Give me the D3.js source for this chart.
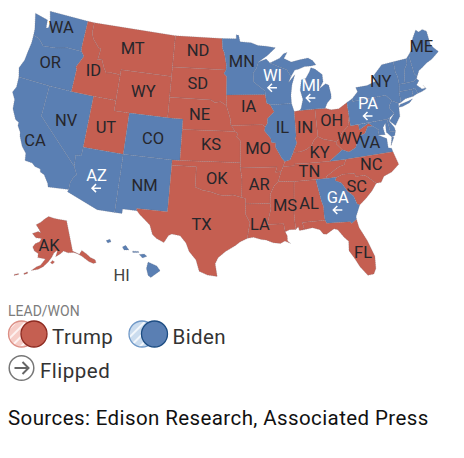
<!DOCTYPE html>
<html>
<head>
<meta charset="utf-8">
<style>
  html, body { margin: 0; padding: 0; background: #fff; }
  svg { display: block; }
  text { font-family: Roboto, "Open Sans", sans-serif; }
</style>
<script src="https://cdn.jsdelivr.net/npm/d3@7"></script>
</head>
<body>
<svg id="chart" width="464" height="458"></svg>
<script>
// Result of each state
const trumpStates = ['ID', 'MT', 'WY', 'UT', 'ND', 'SD', 'NE', 'KS', 'OK', 'TX', 'IA', 'MO', 'AR', 'LA', 'MS', 'AL', 'TN', 'KY', 'IN', 'OH', 'WV', 'NC', 'SC', 'FL', 'AK'];
const bidenStates = ['WA', 'OR', 'CA', 'NV', 'CO', 'AZ', 'NM', 'MN', 'WI', 'IL', 'MI', 'GA', 'VA', 'PA', 'NY', 'MD', 'DE', 'NJ', 'CT', 'RI', 'MA', 'VT', 'NH', 'ME', 'HI'];
const flippedStates = ['AZ', 'WI', 'MI', 'PA', 'GA'];

// Simplified state outlines, [lon, lat]
const stateRings = {
  WA: [[[-124.7,48.38],[-123.1,48.15],[-122.75,48.1],[-122.6,47.3],[-122.3,47.4],[-122.3,48.0],[-122.75,49],[-117.03,49],[-117.04,46.42],[-116.92,46],[-118.98,46],[-119.3,45.93],[-120.5,45.7],[-121.2,45.65],[-122.3,45.55],[-122.8,45.9],[-123.2,46.15],[-124,46.27],[-124.1,46.9]]],
  OR: [[[-124,46.27],[-123.2,46.15],[-122.8,45.9],[-122.3,45.55],[-121.2,45.65],[-120.5,45.7],[-119.3,45.93],[-118.98,46],[-116.92,46],[-116.46,45.6],[-116.85,44.95],[-117.2,44.4],[-117.03,44.2],[-117.03,42],[-120,42],[-124.2,42],[-124.55,42.84],[-124.15,43.7],[-124.05,44.7],[-123.95,45.5]]],
  CA: [[[-124.2,42],[-120,42],[-120,39],[-114.63,35],[-114.15,34.27],[-114.45,34],[-114.72,33.4],[-114.72,32.72],[-117.12,32.53],[-117.25,32.85],[-117.9,33.6],[-118.4,33.75],[-118.5,34.03],[-119.2,34.15],[-119.6,34.4],[-120.5,34.45],[-120.65,35.15],[-121.3,35.7],[-121.9,36.6],[-122,36.95],[-122.5,37.5],[-122.5,37.8],[-123,38],[-123.7,38.9],[-123.85,39.8],[-124.4,40.44],[-124.1,41]]],
  NV: [[[-120,42],[-117.03,42],[-114.04,42],[-114.04,37],[-114.05,36.2],[-114.75,36.1],[-114.63,35],[-120,39]]],
  ID: [[[-117.03,49],[-116.05,49],[-116.05,48],[-115.7,47.45],[-114.7,46.7],[-114.35,46.65],[-114.5,45.55],[-113.95,45.7],[-113.45,44.95],[-113,44.45],[-112.3,44.55],[-111.5,44.55],[-111.05,44.48],[-111.05,42],[-114.04,42],[-117.03,42],[-117.03,44.2],[-117.2,44.4],[-116.85,44.95],[-116.46,45.6],[-116.92,46],[-117.04,46.42]]],
  MT: [[[-116.05,49],[-104.05,49],[-104.05,45.94],[-104.05,45],[-111.05,45],[-111.05,44.48],[-111.5,44.55],[-112.3,44.55],[-113,44.45],[-113.45,44.95],[-113.95,45.7],[-114.5,45.55],[-114.35,46.65],[-114.7,46.7],[-115.7,47.45],[-116.05,48]]],
  WY: [[[-111.05,45],[-104.05,45],[-104.05,43],[-104.05,41],[-109.05,41],[-111.05,41],[-111.05,42],[-111.05,44.48]]],
  UT: [[[-114.04,42],[-111.05,42],[-111.05,41],[-109.05,41],[-109.05,37],[-114.04,37]]],
  CO: [[[-109.05,41],[-104.05,41],[-102.05,41],[-102.05,40],[-102.05,37],[-103,37],[-109.05,37]]],
  NM: [[[-109.05,37],[-103,37],[-103.04,32],[-106.62,32],[-106.53,31.78],[-108.2,31.78],[-108.2,31.33],[-109.05,31.33]]],
  AZ: [[[-114.04,37],[-109.05,37],[-109.05,31.33],[-111.07,31.33],[-114.81,32.5],[-114.72,32.72],[-114.72,33.4],[-114.45,34],[-114.15,34.27],[-114.63,35],[-114.75,36.1],[-114.05,36.2]]],
  ND: [[[-104.05,49],[-97.23,49],[-97.1,48],[-96.85,47.6],[-96.55,46.5],[-96.56,45.94],[-104.05,45.94]]],
  SD: [[[-104.05,45.94],[-96.56,45.94],[-96.85,45.6],[-96.45,45.3],[-96.45,43.5],[-96.45,42.49],[-97.2,42.85],[-98,42.77],[-98.5,43],[-104.05,43],[-104.05,45]]],
  NE: [[[-104.05,43],[-98.5,43],[-98,42.77],[-97.2,42.85],[-96.45,42.49],[-96.1,41.7],[-95.9,41.2],[-95.85,40.7],[-95.31,40],[-102.05,40],[-102.05,41],[-104.05,41]]],
  KS: [[[-102.05,40],[-95.31,40],[-94.9,39.8],[-95.1,39.5],[-94.61,39.1],[-94.62,37],[-102.05,37]]],
  OK: [[[-103,37],[-102.05,37],[-94.62,37],[-94.62,36.5],[-94.43,35.4],[-94.48,33.64],[-95.5,33.9],[-96.5,33.8],[-97.2,33.9],[-98.1,34.13],[-99.2,34.3],[-100,34.56],[-100,36.5],[-103,36.5]]],
  TX: [[[-103,36.5],[-100,36.5],[-100,34.56],[-99.2,34.3],[-98.1,34.13],[-97.2,33.9],[-96.5,33.8],[-95.5,33.9],[-94.48,33.64],[-94.04,33.55],[-94.04,33.02],[-94.04,32],[-93.55,31.2],[-93.75,30.4],[-93.85,29.7],[-94.7,29.35],[-95.2,29],[-96.3,28.4],[-97.1,27.8],[-97.4,27.2],[-97.15,25.96],[-98.2,26.07],[-99.1,26.4],[-99.5,27.5],[-100.3,28.3],[-100.7,29.1],[-101.4,29.77],[-102.35,29.87],[-102.7,29.7],[-103.15,28.98],[-104,29.3],[-104.5,29.65],[-104.9,30.55],[-106.2,31.47],[-106.53,31.78],[-106.62,32],[-103.04,32]]],
  MN: [[[-97.23,49],[-95.15,49],[-95.15,49.38],[-94.8,49.33],[-94.6,48.7],[-93,48.6],[-92,48.3],[-90.8,48.2],[-89.5,48],[-90.7,47.3],[-92.02,46.7],[-92.3,46.1],[-92.8,45.6],[-92.75,44.75],[-91.25,43.85],[-91.22,43.5],[-96.45,43.5],[-96.45,45.3],[-96.85,45.6],[-96.56,45.94],[-96.55,46.5],[-96.85,47.6],[-97.1,48]]],
  IA: [[[-96.45,43.5],[-91.22,43.5],[-91.1,42.7],[-90.64,42.5],[-90.15,41.8],[-91.05,41.2],[-91.1,40.7],[-91.42,40.38],[-91.73,40.61],[-95.77,40.58],[-95.85,40.7],[-95.9,41.2],[-96.1,41.7],[-96.45,42.49]]],
  MO: [[[-95.77,40.58],[-91.73,40.61],[-91.42,40.38],[-91.5,40],[-90.75,39.25],[-90.7,38.9],[-90.15,38.8],[-90.2,38.4],[-89.5,37.3],[-89.15,36.98],[-89.4,36.5],[-89.7,36],[-90.37,36],[-90.15,36.5],[-94.62,36.5],[-94.62,37],[-94.61,39.1],[-95.1,39.5],[-94.9,39.8],[-95.31,40]]],
  AR: [[[-94.62,36.5],[-90.15,36.5],[-90.37,36],[-89.7,36],[-90.1,35.1],[-90.6,34.7],[-91.1,33.9],[-91.17,33],[-94.04,33.02],[-94.04,33.55],[-94.48,33.64],[-94.43,35.4]]],
  LA: [[[-94.04,33.02],[-91.17,33],[-91.1,32.5],[-91.6,31],[-89.73,31],[-89.6,30.2],[-89.4,29.8],[-89.4,29.3],[-89.1,29.05],[-89.7,29.3],[-90.2,29.1],[-91,29.2],[-91.8,29.5],[-92.3,29.55],[-93.2,29.78],[-93.85,29.7],[-93.75,30.4],[-93.55,31.2],[-94.04,32]]],
  MS: [[[-90.1,35.1],[-88.2,35],[-88.47,31.9],[-88.4,30.37],[-89.1,30.38],[-89.6,30.2],[-89.73,31],[-91.6,31],[-91.1,32.5],[-91.17,33],[-91.1,33.9],[-90.6,34.7]]],
  AL: [[[-88.2,35],[-85.6,35],[-85.18,32.87],[-85,32.3],[-85.05,31.55],[-85,31],[-87.6,31],[-87.45,30.4],[-87.5,30.28],[-88,30.23],[-88.1,30.6],[-88.4,30.37],[-88.47,31.9]]],
  TN: [[[-89.7,36],[-89.4,36.5],[-88.05,36.5],[-88.07,36.68],[-86.5,36.65],[-83.68,36.6],[-81.68,36.59],[-82,36.1],[-82.6,36],[-83.1,35.77],[-84.3,35.2],[-84.32,34.99],[-85.6,35],[-88.2,35],[-90.1,35.1]]],
  KY: [[[-89.4,36.5],[-89.15,36.98],[-88.5,37.1],[-88.05,37.8],[-87.1,37.8],[-86.3,38],[-85.7,38.3],[-85.4,38.73],[-84.8,39.1],[-84.2,38.8],[-83.6,38.65],[-82.6,38.42],[-82.6,38.17],[-81.97,37.54],[-83.68,36.6],[-86.5,36.65],[-88.07,36.68],[-88.05,36.5]]],
  IL: [[[-90.64,42.5],[-87.8,42.5],[-87.53,41.7],[-87.53,39.35],[-87.65,39.1],[-87.5,38.7],[-88.05,37.8],[-88.5,37.1],[-89.15,36.98],[-89.5,37.3],[-90.2,38.4],[-90.15,38.8],[-90.7,38.9],[-90.75,39.25],[-91.5,40],[-91.42,40.38],[-91.1,40.7],[-91.05,41.2],[-90.15,41.8]]],
  IN: [[[-87.53,41.7],[-86.82,41.76],[-84.8,41.76],[-84.8,39.1],[-85.4,38.73],[-85.7,38.3],[-86.3,38],[-87.1,37.8],[-88.05,37.8],[-87.5,38.7],[-87.65,39.1],[-87.53,39.35]]],
  OH: [[[-84.8,41.76],[-83.45,41.73],[-82.7,41.5],[-81.7,41.5],[-80.52,41.98],[-80.52,40.64],[-80.85,39.7],[-81.7,39.2],[-82.2,38.6],[-82.6,38.42],[-83.6,38.65],[-84.2,38.8],[-84.8,39.1]]],
  MI: [
    [[-86.82,41.76],[-84.8,41.76],[-83.45,41.73],[-83.1,42.2],[-82.5,42.6],[-82.45,43],[-82.6,43.9],[-83,44.07],[-83.9,43.65],[-83.3,44.3],[-83.3,45],[-84.2,45.6],[-84.75,45.78],[-85,45.4],[-85.6,44.8],[-86.2,44.7],[-86.5,43.7],[-86.25,42.8],[-86.6,41.95]],
    [[-90.4,46.55],[-89,46.95],[-88.4,47.38],[-87.9,47.47],[-88.4,46.9],[-87.4,46.5],[-86.2,46.65],[-85,46.75],[-84.4,46.45],[-84,46],[-84.7,45.95],[-85.6,45.95],[-86.5,45.75],[-87,45.7],[-87.6,45.1],[-88.1,45.8],[-89.1,46.1]]
  ],
  WI: [[[-92.02,46.7],[-90.9,46.95],[-90.4,46.55],[-89.1,46.1],[-88.1,45.8],[-87.6,45.1],[-88,44.55],[-87.05,45.25],[-87.55,44.3],[-87.8,43.3],[-87.8,42.5],[-90.64,42.5],[-91.1,42.7],[-91.22,43.5],[-91.25,43.85],[-92.75,44.75],[-92.8,45.6],[-92.3,46.1]]],
  WV: [[[-82.6,38.42],[-82.2,38.6],[-81.7,39.2],[-80.85,39.7],[-80.52,40.64],[-80.52,39.72],[-79.48,39.72],[-79.48,39.2],[-78.2,39.68],[-77.72,39.32],[-78.35,39.4],[-78.87,38.77],[-79.65,38.6],[-80.3,37.55],[-81.2,37.25],[-81.97,37.54],[-82.6,38.17]]],
  VA: [
    [[-83.68,36.6],[-81.97,37.54],[-81.2,37.25],[-80.3,37.55],[-79.65,38.6],[-78.87,38.77],[-78.35,39.4],[-77.72,39.32],[-77.05,38.85],[-77.3,38.4],[-76.3,37.9],[-76.35,37],[-75.95,36.9],[-75.87,36.55],[-81.68,36.59]],
    [[-75.95,37.15],[-75.4,37.9],[-75.65,37.95]]
  ],
  MD: [[[-79.48,39.72],[-75.79,39.72],[-75.7,38.46],[-75.05,38.45],[-75.25,38.03],[-75.65,37.95],[-76.2,38.5],[-76.1,39.4],[-76.5,39],[-76.4,38.3],[-77.3,38.4],[-77.05,38.85],[-77.72,39.32],[-78.2,39.68],[-79.48,39.2]]],
  DE: [[[-75.79,39.72],[-75.4,39.8],[-75.55,39.45],[-75.08,38.8],[-75.05,38.45],[-75.7,38.46]]],
  PA: [[[-80.52,41.98],[-79.76,42.27],[-79.76,42],[-75.35,42],[-74.7,41.36],[-75.13,40.98],[-75.2,40.65],[-74.72,40.15],[-75.4,39.8],[-75.79,39.72],[-80.52,39.72],[-80.52,40.64]]],
  NY: [
    [[-79.76,42.27],[-78.9,42.85],[-79.05,43.27],[-77.5,43.27],[-76.2,43.55],[-76.3,44.15],[-75,44.98],[-73.35,45],[-73.4,44],[-73.25,43.55],[-73.27,42.75],[-73.5,42.05],[-73.55,41.3],[-73.65,41],[-73.9,41],[-74.7,41.36],[-75.35,42],[-79.76,42]],
    [[-74,40.6],[-73.75,40.85],[-72.6,40.98],[-72,41.1],[-72.5,40.8],[-73.5,40.6]]
  ],
  NJ: [[[-74.7,41.36],[-73.9,41],[-74,40.5],[-74.1,39.75],[-74.9,38.95],[-75.5,39.5],[-74.72,40.15],[-75.2,40.65],[-75.13,40.98]]],
  CT: [[[-73.5,42.05],[-71.8,42.02],[-71.85,41.32],[-72.9,41.25],[-73.65,41],[-73.55,41.3]]],
  RI: [[[-71.8,42.02],[-71.38,42.02],[-71.15,41.5],[-71.85,41.32]]],
  MA: [[[-73.27,42.75],[-72.46,42.73],[-71.3,42.7],[-70.85,42.87],[-70.6,42.65],[-71.05,42.3],[-70.65,41.95],[-70.5,41.78],[-70,41.8],[-70.2,42.07],[-69.95,41.7],[-70.65,41.55],[-71.15,41.5],[-71.38,42.02],[-71.8,42.02],[-73.5,42.05]]],
  VT: [[[-73.35,45],[-71.5,45.01],[-71.6,44.5],[-72.05,44.1],[-72.45,43.1],[-72.46,42.73],[-73.27,42.75],[-73.25,43.55],[-73.4,44]]],
  NH: [[[-71.5,45.01],[-71.08,45.3],[-70.98,43.4],[-70.7,43.07],[-70.85,42.87],[-71.3,42.7],[-72.46,42.73],[-72.45,43.1],[-72.05,44.1],[-71.6,44.5]]],
  ME: [[[-71.08,45.3],[-70.4,45.8],[-70,46.7],[-69.23,47.46],[-68.9,47.2],[-68.3,47.35],[-67.79,47.07],[-67.79,45.7],[-67.45,45.3],[-67,44.85],[-68.2,44.3],[-69,44.1],[-69.8,43.75],[-70.25,43.6],[-70.7,43.07],[-70.98,43.4]]],
  NC: [[[-84.32,34.99],[-84.3,35.2],[-83.1,35.77],[-82.6,36],[-82,36.1],[-81.68,36.59],[-75.87,36.55],[-75.5,35.25],[-76.5,34.65],[-77.5,34.4],[-77.95,33.87],[-78.55,33.86],[-79.67,34.8],[-80.8,34.82],[-80.9,35.1],[-81.05,35.15],[-82.3,35.2],[-83.1,35]]],
  SC: [[[-83.1,35],[-82.3,35.2],[-81.05,35.15],[-80.9,35.1],[-80.8,34.82],[-79.67,34.8],[-78.55,33.86],[-79.2,33.2],[-80,32.6],[-80.85,32.05],[-81.15,32.2],[-81.4,33],[-82,33.5],[-82.6,34.4],[-83.35,34.7]]],
  GA: [[[-85.6,35],[-84.32,34.99],[-83.1,35],[-83.35,34.7],[-82.6,34.4],[-82,33.5],[-81.4,33],[-81.15,32.2],[-80.85,32.05],[-81.45,31],[-81.45,30.72],[-82.05,30.37],[-82.2,30.57],[-84.86,30.7],[-85,31],[-85.05,31.55],[-85,32.3],[-85.18,32.87]]],
  FL: [[[-87.6,31],[-85,31],[-84.86,30.7],[-82.2,30.57],[-82.05,30.37],[-81.45,30.72],[-81.3,29.9],[-80.6,28.5],[-80.05,26.9],[-80.15,25.7],[-80.45,25.2],[-81.1,25.15],[-81.8,26.1],[-82.2,26.9],[-82.75,27.8],[-82.65,28.7],[-83.1,29.15],[-83.7,29.95],[-84.1,30.1],[-85,29.65],[-85.35,29.7],[-85.7,30.15],[-86.5,30.4],[-87.5,30.28],[-87.45,30.4]]],
  AK: [
    [[-141,69.65],[-141,60.3],[-137.5,58.9],[-135.5,59.8],[-133.4,58.4],[-132,57],[-130,55.9],[-130,55],[-131.5,55],[-133.5,56],[-135.5,57.5],[-136.5,58.2],[-138.5,59.2],[-140.5,59.8],[-144,60],[-146.5,60.7],[-148.5,60],[-151.5,59.2],[-150,61.2],[-152.5,60.3],[-153.9,59],[-156,57.5],[-158.5,56.1],[-161,55.2],[-164.5,54.6],[-162,55.9],[-160,56.5],[-157.5,58.5],[-159,58.6],[-162,58.7],[-162,59.9],[-164.5,60.5],[-166,61.6],[-164.8,62.7],[-162,63.5],[-161,64.5],[-165,64.5],[-168,65.6],[-164,66.5],[-162,66.2],[-163.5,67.1],[-166.5,68.4],[-163,69.4],[-160,70.5],[-156.6,71.35],[-152,70.85],[-148,70.4],[-144,70]],
    [[-154.6,57.4],[-153.4,58.1],[-152.2,57.6],[-153.5,57]],
    [[-168,53.3],[-166.3,54],[-166.2,53.5],[-167.8,53]],
    [[-172.5,52.3],[-170.5,52.9],[-170.5,52.6],[-172.4,52]]
  ],
  HI: [
    [[-155.9,20.25],[-155.1,19.9],[-154.8,19.5],[-155.65,18.92],[-155.9,19.1],[-156.05,19.7]],
    [[-156.7,20.9],[-156.25,20.95],[-156,20.75],[-156.4,20.6]],
    [[-157.3,21.2],[-156.75,21.17],[-156.75,21.08],[-157.3,21.08]],
    [[-158.25,21.55],[-157.95,21.7],[-157.65,21.3],[-158.1,21.3]],
    [[-159.75,22.1],[-159.4,22.23],[-159.3,22],[-159.6,21.9]]
  ]
};

// State labels, [abbr, lon, lat]
const stateLabels = [
  ['WA', -120.56, 47.8], ['OR', -120.73, 44.2], ['CA', -120, 36.6], ['NV', -116.83, 39.2],
  ['ID', -114.76, 44.47], ['MT', -109.96, 47.3], ['WY', -107.63, 43.3], ['UT', -111.73, 39.3],
  ['CO', -105.63, 38.9], ['AZ', -111.83, 34.6], ['NM', -106, 34.3], ['ND', -100.63, 47.8],
  ['SD', -100.4, 44.6], ['NE', -99.93, 41.6], ['KS', -98.3, 38.7], ['OK', -97.46, 35.5],
  ['TX', -99.06, 31], ['MN', -94.34, 46.8], ['IA', -93.5, 42.4], ['MO', -92.4, 38.4],
  ['AR', -92.37, 34.9], ['LA', -92.43, 31.1], ['WI', -90.13, 45.4], ['IL', -89.2, 40.3],
  ['MI', -85, 44.1], ['IN', -86.3, 40.1], ['OH', -82.8, 40.5], ['KY', -84.8, 37.6],
  ['TN', -86.26, 35.9], ['MS', -89.44, 32.8], ['AL', -86.64, 32.8], ['GA', -83.24, 33.1],
  ['FL', -81.24, 27.5], ['SC', -80.87, 33.9], ['NC', -78.74, 35.8], ['WV', -80.87, 38.6],
  ['VA', -78.43, 37.9], ['PA', -77.8, 41.6], ['NY', -75.6, 43.4], ['ME', -69.07, 45.8],
  ['AK', -155.5, 62.7], ['HI', -158.3, 19.17]
];

const legendLabels = { heading: 'LEAD/WON', trump: 'Trump', biden: 'Biden', flipped: 'Flipped' };
const sourceLine = 'Sources: Edison Research, Associated Press';

const colors = {
  trump: '#c55f51', trumpLine: '#8d2a20', trumpPale: '#f6cdc7', trumpPaleLine: '#dc8f85',
  biden: '#5a7fb3', bidenLine: '#1d4d83', bidenPale: '#cbdcee', bidenPaleLine: '#7099c8'
};

const svg = d3.select('#chart');

const lowerProjection = d3.geoAlbers().rotate([95, 0]).scale(590).translate([232.5, 145]);
const alaskaProjection = d3.geoConicEqualArea().rotate([154, 0]).center([-2, 58.5]).parallels([55, 65]).scale(190).translate([48, 259]);
const hawaiiProjection = d3.geoConicEqualArea().rotate([157, 0]).center([0, 20]).parallels([8, 18]).scale(665).translate([136, 265]);

function projectionFor(abbr) {
  if (abbr === 'AK') return alaskaProjection;
  if (abbr === 'HI') return hawaiiProjection;
  return lowerProjection;
}

// d3.geoPath wants rings in spherical winding order
function toFeature(abbr) {
  const polygons = stateRings[abbr].map((ring) => {
    const closed = [...ring, ring[0]];
    const area = d3.geoArea({ type: 'Polygon', coordinates: [closed] });
    return [area > 2 * Math.PI ? closed.reverse() : closed];
  });
  return { type: 'Feature', id: abbr, geometry: { type: 'MultiPolygon', coordinates: polygons } };
}

const features = Object.keys(stateRings).map(toFeature);

const winnerColor = d3.scaleOrdinal()
  .domain([...trumpStates, ...bidenStates])
  .range([...trumpStates.map(() => colors.trump), ...bidenStates.map(() => colors.biden)]);

const map = svg.append('g').attr('class', 'map');

map.selectAll('path')
  .data(features)
  .enter()
  .append('path')
  .attr('d', (d) => d3.geoPath(projectionFor(d.id))(d))
  .attr('fill', (d) => winnerColor(d.id))
  .attr('stroke', '#6c6a78')
  .attr('stroke-opacity', 0.5)
  .attr('stroke-width', 0.6)
  .attr('stroke-dasharray', '1.4 0.8');

const labelLayer = svg.append('g').attr('class', 'labels');

stateLabels.forEach(([abbr, lon, lat]) => {
  const [x, y] = projectionFor(abbr)([lon, lat]);
  const flipped = flippedStates.includes(abbr);
  let fill = '#26262b';
  if (flipped) fill = '#fff';
  if (abbr === 'HI') fill = '#444';

  labelLayer.append('text')
    .text(abbr)
    .attr('x', x)
    .attr('y', y)
    .attr('dy', '0.36em')
    .attr('text-anchor', 'middle')
    .attr('fill', fill)
    .style('font-family', '"Liberation Sans Narrow", Roboto, sans-serif')
    .style('font-size', '16.5px');

  if (flipped) {
    labelLayer.append('path')
      .attr('d', `M${x + 4.5},${y + 13}H${x - 4.5}M${x - 0.5},${y + 9}L${x - 4.5},${y + 13}L${x - 0.5},${y + 17}`)
      .attr('fill', 'none')
      .attr('stroke', '#fff')
      .attr('stroke-width', 1.5);
  }
});

// Legend
const hatch = (id, color) => {
  svg.append('pattern')
    .attr('id', id)
    .attr('width', 7)
    .attr('height', 7)
    .attr('patternUnits', 'userSpaceOnUse')
    .attr('patternTransform', 'rotate(-45)')
    .call((p) => p.append('rect').attr('width', 7).attr('height', 7).attr('fill', color))
    .call((p) => p.append('rect').attr('width', 7).attr('height', 2).attr('fill', '#fff').attr('fill-opacity', 0.75));
};
hatch('hatch-trump', colors.trumpPale);
hatch('hatch-biden', colors.bidenPale);

const legend = svg.append('g').attr('class', 'legend');

legend.append('text')
  .text(legendLabels.heading)
  .attr('x', 8)
  .attr('y', 316)
  .attr('fill', '#7c7c7c')
  .style('font-size', '14px');

const swatch = (x, pattern, paleLine, fill, line, label, labelX) => {
  legend.append('circle').attr('cx', x).attr('cy', 334).attr('r', 13)
    .attr('fill', `url(#${pattern})`).attr('stroke', paleLine).attr('stroke-width', 1.3);
  legend.append('circle').attr('cx', x + 12.5).attr('cy', 334).attr('r', 13)
    .attr('fill', fill).attr('stroke', line).attr('stroke-width', 1.3);
  legend.append('text').text(label).attr('x', labelX).attr('y', 344)
    .attr('fill', '#333').style('font-size', '20.5px').style('letter-spacing', '0.4px');
};
swatch(21.5, 'hatch-trump', colors.trumpPaleLine, colors.trump, colors.trumpLine, legendLabels.trump, 52);
swatch(142, 'hatch-biden', colors.bidenPaleLine, colors.biden, colors.bidenLine, legendLabels.biden, 172.5);

legend.append('circle').attr('cx', 21.5).attr('cy', 368).attr('r', 12.3)
  .attr('fill', '#fff').attr('stroke', '#777').attr('stroke-width', 1.5);
legend.append('path')
  .attr('d', 'M14.5,368H28M22.5,362L28.5,368L22.5,374')
  .attr('fill', 'none').attr('stroke', '#666').attr('stroke-width', 2);
legend.append('text').text(legendLabels.flipped).attr('x', 40).attr('y', 378)
  .attr('fill', '#333').style('font-size', '20.5px').style('letter-spacing', '0.5px');

svg.append('text')
  .text(sourceLine)
  .attr('x', 8)
  .attr('y', 425)
  .attr('fill', '#111')
  .style('font-size', '20.5px')
  .style('letter-spacing', '0.4px');
</script>
</body>
</html>
